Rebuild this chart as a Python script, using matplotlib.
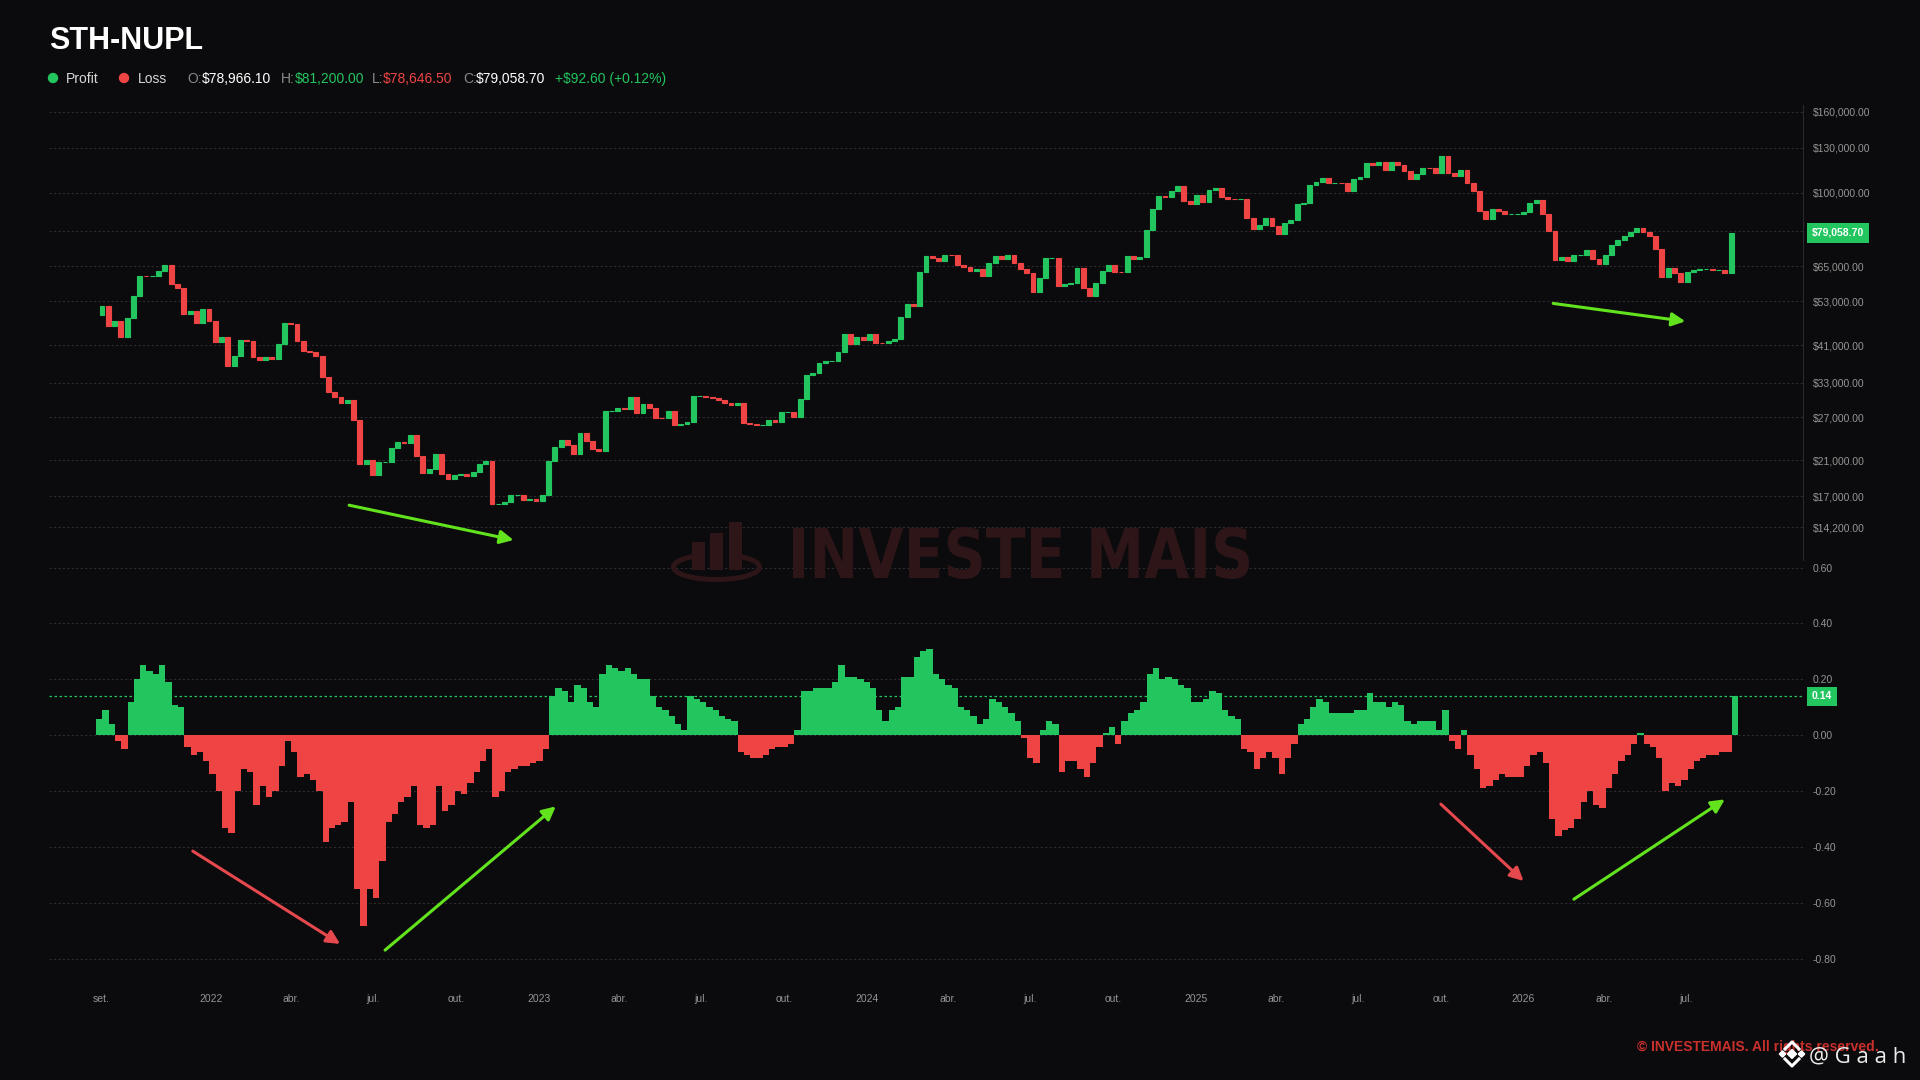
from datetime import date, timedelta

import matplotlib
matplotlib.use('Agg')
import matplotlib.pyplot as plt
from matplotlib.font_manager import FontProperties
from matplotlib.patches import Arc, Circle, PathPatch, Rectangle, RegularPolygon
from matplotlib.lines import Line2D
from matplotlib.textpath import TextPath
from matplotlib.ticker import FixedLocator, NullLocator
from matplotlib.transforms import Affine2D, blended_transform_factory

# weekly data, week 0 starts on this monday
first_week = date(2021, 8, 30)
first_open = 48900

# weekly closes (USD)
price_close = [
    51750, 45950, 47250, 43200, 48200, 54700, 61500, 61300, 61300, 63300,
    65500, 58600, 57300, 49400, 50100, 46700, 50800, 47300, 41900, 43100,
    36300, 38500, 42400, 42200, 38400, 37700, 38400, 37800, 41300, 46800,
    46400, 42200, 39700, 39500, 38500, 34100, 31300, 30300, 29400, 29900,
    26600, 20500, 21000, 19300, 20800, 20800, 22600, 23300, 23200, 24300,
    21500, 19500, 19900, 21800, 19400, 18800, 19300, 19400, 19200, 19600,
    20600, 20900, 16300, 16300, 16500, 17100, 17100, 16700, 16800, 16600,
    17100, 20900, 22700, 23700, 22900, 21800, 24600, 23500, 22400, 22100,
    28000, 28000, 28400, 28300, 30300, 27600,
    29200, 28400, 26900, 26800, 28000, 25800, 25900, 26300, 30500, 30600,
    30300, 30200, 29900, 29300, 29000, 29300, 26100, 26000, 25800, 25800,
    26500, 26200, 27900, 27900, 27100, 30000, 34500, 35000, 37000, 37400,
    37500, 39500, 43800, 41400, 43000, 42300, 43900, 41700, 41600, 42000,
    42600, 48300, 52100, 51700, 63000, 68900, 68400, 67200, 69600, 69300,
    65600, 64900, 63400, 64000, 61500, 66300, 69000, 67800, 69600, 66200,
    64200, 62700, 55900, 60800, 68200, 68300, 58100, 58800, 58900, 64300,
    57300, 54800, 59100, 63300, 65600, 63000, 62900, 69000, 67900, 68700,
    80400, 90600, 98000, 97200, 101000, 104000, 95000, 93400,
    98300, 94500, 101300, 102600, 97700, 96500, 96100, 96300, 86000, 80700,
    82600, 86100, 82400, 78400, 83700, 85200, 93800, 94300, 104200, 106500,
    109000, 105700, 105700, 105500, 100900, 108400, 109200, 119100, 117300, 119400,
    114200, 119300, 117400, 113500, 108200, 111100, 115300, 115200, 112200, 123500,
    112000, 110000, 114000, 106000, 101000, 90000, 85500, 91000, 90000, 88000,
    88000, 88500, 89500, 94000, 95500, 88500, 80000, 67500, 68500, 67000,
    69500, 69500, 71500, 68000, 66000, 69500, 73500, 76000, 77500, 79500,
    81500, 79500, 77500, 72000, 61000, 64500, 62500, 59500, 63000, 63500,
    64000, 64000, 63500, 63500, 62500, 79058.70,
]

# weekly STH-NUPL
nupl = [
    0.06, 0.09, 0.04, -0.02, -0.05, 0.12, 0.20, 0.25, 0.23, 0.22,
    0.25, 0.19, 0.11, 0.10, -0.04, -0.07, -0.06, -0.09, -0.14, -0.20,
    -0.33, -0.35, -0.20, -0.12, -0.13, -0.25, -0.18, -0.22, -0.20, -0.11,
    -0.02, -0.06, -0.15, -0.14, -0.16, -0.20, -0.38, -0.33, -0.32, -0.31,
    -0.24, -0.55, -0.68, -0.55, -0.58, -0.45, -0.31, -0.28, -0.24, -0.22,
    -0.18, -0.32, -0.33, -0.32, -0.18, -0.27, -0.25, -0.20, -0.21, -0.17,
    -0.13, -0.09, -0.05, -0.22, -0.20, -0.13, -0.12, -0.11, -0.11, -0.10,
    -0.09, -0.05, 0.14, 0.17, 0.16, 0.12, 0.18, 0.17, 0.12, 0.10,
    0.22, 0.25, 0.24, 0.23, 0.24, 0.22,
    0.20, 0.20, 0.14, 0.10, 0.09, 0.07, 0.04, 0.02, 0.14, 0.13,
    0.12, 0.10, 0.09, 0.07, 0.06, 0.05, -0.06, -0.07, -0.08, -0.08,
    -0.07, -0.05, -0.04, -0.04, -0.03, 0.02, 0.16, 0.16, 0.17, 0.17,
    0.17, 0.19, 0.25, 0.21, 0.21, 0.20, 0.19, 0.17, 0.09, 0.05,
    0.09, 0.10, 0.21, 0.21, 0.28, 0.30, 0.31, 0.22, 0.20, 0.18,
    0.17, 0.10, 0.09, 0.07, 0.04, 0.06, 0.13, 0.12, 0.10, 0.08,
    0.05, -0.01, -0.08, -0.10, 0.02, 0.05, 0.04, -0.13, -0.09, -0.09,
    -0.12, -0.15, -0.10, -0.04, 0.01, 0.03, -0.03, 0.05, 0.08, 0.09,
    0.12, 0.22, 0.24, 0.20, 0.21, 0.20, 0.18, 0.17,
    0.12, 0.12, 0.13, 0.16, 0.15, 0.09, 0.07, 0.06, -0.05, -0.06,
    -0.12, -0.08, -0.06, -0.08, -0.14, -0.08, -0.03, 0.04, 0.06, 0.10,
    0.13, 0.12, 0.08, 0.08, 0.08, 0.08, 0.09, 0.09, 0.15, 0.12,
    0.12, 0.10, 0.12, 0.11, 0.05, 0.04, 0.05, 0.05, 0.05, 0.02,
    0.09, -0.02, -0.05, 0.02, -0.07, -0.12, -0.19, -0.18, -0.16, -0.14,
    -0.15, -0.15, -0.15, -0.11, -0.07, -0.06, -0.10, -0.30, -0.36, -0.34,
    -0.33, -0.30, -0.24, -0.20, -0.25, -0.26, -0.19, -0.14, -0.09, -0.07,
    -0.03, 0.01, -0.03, -0.04, -0.08, -0.20, -0.17, -0.18, -0.16, -0.12,
    -0.09, -0.08, -0.07, -0.07, -0.06, -0.06, 0.14,
]

last_open, last_high, last_low, last_close = 78966.10, 81200.00, 78646.50, 79058.70
change, change_pct = 92.60, 0.12

tick_dates = [date(2021, 9, 1), date(2022, 1, 1), date(2022, 4, 1), date(2022, 7, 1),
              date(2022, 10, 1), date(2023, 1, 1), date(2023, 4, 1), date(2023, 7, 1),
              date(2023, 10, 1), date(2024, 1, 1), date(2024, 4, 1), date(2024, 7, 1),
              date(2024, 10, 1), date(2025, 1, 1), date(2025, 4, 1), date(2025, 7, 1),
              date(2025, 10, 1), date(2026, 1, 1), date(2026, 4, 1), date(2026, 7, 1)]
tick_labels = ['set.', '2022', 'abr.', 'jul.', 'out.', '2023', 'abr.', 'jul.', 'out.',
               '2024', 'abr.', 'jul.', 'out.', '2025', 'abr.', 'jul.', 'out.',
               '2026', 'abr.', 'jul.']
price_ticks = [14200, 17000, 21000, 27000, 33000, 41000, 53000, 65000, 80000,
               100000, 130000, 160000]
nupl_ticks = [-0.8, -0.6, -0.4, -0.2, 0.0, 0.2, 0.4, 0.6]

# hand drawn arrows: (colour, start, end)
price_arrows = [
    ('g', (date(2022, 6, 4), 16160), (date(2022, 12, 4), 13190)),
    ('g', (date(2026, 2, 3), 52400), (date(2026, 6, 30), 47200)),
]
nupl_arrows = [
    ('r', (date(2021, 12, 12), -0.414), (date(2022, 5, 25), -0.746)),
    ('g', (date(2022, 7, 14), -0.768), (date(2023, 1, 20), -0.254)),
    ('r', (date(2025, 10, 1), -0.246), (date(2026, 1, 1), -0.521)),
    ('g', (date(2026, 2, 26), -0.586), (date(2026, 8, 13), -0.229)),
]

BG = '#0b0b0d'
GREEN = '#22c55e'
RED = '#ef4444'
GRID = '#2c2c31'
TICK = '#959595'
ARROW = {'g': '#62e31d', 'r': '#e5484d'}
WM = '#2d1518'

plt.rcParams['font.family'] = ['Liberation Sans', 'DejaVu Sans']
plt.rcParams['axes.unicode_minus'] = False

W, H = 1920, 1080
fig = plt.figure(figsize=(W / 100, H / 100), dpi=100, facecolor=BG)
img = Affine2D().scale(1 / W, -1 / H).translate(0, 1) + fig.transFigure

ax1 = fig.add_axes([49 / W, 1 - 560 / H, 1754 / W, 455 / H], facecolor=BG)
ax2 = fig.add_axes([49 / W, 1 - 982 / H, 1754 / W, 422 / H], facecolor=BG, sharex=ax1)
ax2.patch.set_alpha(0)

# price candles
opens = [first_open] + price_close[:-1]
centers = [first_week + timedelta(days=7 * i + 3.5) for i in range(len(price_close))]
cols = [GREEN if c >= o else RED for o, c in zip(opens, price_close)]
ax1.bar(centers, [c - o for o, c in zip(opens, price_close)], bottom=opens,
        width=5.4, color=cols, edgecolor=cols, linewidth=0.8)
ax1.set_yscale('log')
ax1.set_ylim(11740, 166600)
ax1.yaxis.set_major_locator(FixedLocator(price_ticks))
ax1.yaxis.set_minor_locator(NullLocator())
ax1.set_yticklabels([f'${v:,.2f}' for v in price_ticks])

# nupl histogram
wdates = [first_week + timedelta(weeks=i) for i in range(len(nupl))]
ax2.bar(wdates, nupl, width=7, color=[GREEN if v >= 0 else RED for v in nupl], linewidth=0)
ax2.set_ylim(-0.882, 0.627)
ax2.set_yticks(nupl_ticks)
ax2.set_yticklabels([f'{v:.2f}' for v in nupl_ticks])
ax2.axhline(nupl[-1], color=GREEN, lw=0.9, ls=(0, (2, 2)), zorder=1)

ax2.set_xlim(date(2021, 7, 5), date(2026, 11, 8))
ax2.set_xticks(tick_dates)
ax2.set_xticklabels(tick_labels)

for ax in (ax1, ax2):
    ax.yaxis.tick_right()
    ax.grid(axis='y', color=GRID, lw=0.8, ls=(0, (2, 2)), zorder=0)
    ax.set_axisbelow(True)
    ax.tick_params(axis='both', which='both', length=0, labelsize=7.5, labelcolor=TICK)
    ax.tick_params(axis='y', pad=7)
    for s in ax.spines.values():
        s.set_visible(False)
ax1.spines['right'].set_visible(True)
ax1.spines['right'].set_color('#2a2a2e')
ax1.tick_params(axis='x', labelbottom=False)
ax2.tick_params(axis='x', pad=9)

# last value tags
for ax, val, txt in ((ax1, last_close, f'${last_close:,.2f}'), (ax2, nupl[-1], f'{nupl[-1]:.2f}')):
    ax.annotate(txt, xy=(1, val), xycoords=blended_transform_factory(ax.transAxes, ax.transData),
                xytext=(6.5, 0), textcoords='offset points', ha='left', va='center',
                fontsize=7.5, fontweight='bold', color='white', annotation_clip=False,
                bbox=dict(boxstyle='square,pad=0.45', fc=GREEN, ec='none'))

# arrows
for ax, arrows in ((ax1, price_arrows), (ax2, nupl_arrows)):
    for c, start, end in arrows:
        ax.annotate('', xy=end, xytext=start, annotation_clip=False,
                    arrowprops=dict(arrowstyle='-|>', color=ARROW[c], lw=2.2,
                                    mutation_scale=20, shrinkA=0, shrinkB=0))

# header
fig.text(49 / W, 1 - 49 / H, 'STH-NUPL', fontsize=22, fontweight='bold', color='white',
         ha='left', va='baseline')
fig.add_artist(Circle((53, 78), 4.5, color=GREEN, transform=img))
fig.add_artist(Circle((124, 78), 4.5, color=RED, transform=img))
header = [
    (66, 'Profit', '#d8d8d8'), (138, 'Loss', '#d8d8d8'),
    (187, 'O:', '#8a8a8a'), (202, f'${last_open:,.2f}', 'white'),
    (281, 'H:', '#8a8a8a'), (295, f'${last_high:,.2f}', GREEN),
    (372, 'L:', '#8a8a8a'), (383, f'${last_low:,.2f}', RED),
    (463, 'C:', '#8a8a8a'), (476, f'${last_close:,.2f}', 'white'),
    (555, f'+${change:,.2f} (+{change_pct:.2f}%)', GREEN),
]
for x, s, c in header:
    fig.text(x / W, 1 - 83 / H, s, fontsize=10, color=c, ha='left', va='baseline')

# watermark logo
for x, top in ((692, 542), (710, 533), (729, 522)):
    fig.add_artist(Rectangle((x, top), 13, 570 - top, color=WM, lw=0, transform=img, zorder=0.5))
fig.add_artist(Arc((716.5, 567), 86, 25, theta1=-30, theta2=210, color=WM, lw=3.6,
                   transform=img, zorder=0.5))
tp = TextPath((0, 0), 'INVESTE MAIS', size=100,
              prop=FontProperties(family='DejaVu Sans', weight='bold'))
ext = tp.get_extents()
tt = Affine2D().translate(-ext.x0, -ext.y0).scale(456 / ext.width, -52 / ext.height).translate(793, 579)
fig.add_artist(PathPatch(tp, transform=tt + img, color=WM, lw=0, zorder=0.5))

# footer
fig.text(1637 / W, 1 - 1051 / H, '\u00a9 INVESTEMAIS. All rights reserved.', fontsize=10,
         fontweight='bold', color='#c9302c', ha='left', va='baseline')
fig.add_artist(RegularPolygon((1792, 1054), 4, radius=4.5, orientation=0, color='white', transform=img, zorder=5))
for dx in (-9.5, 9.5):
    fig.add_artist(RegularPolygon((1792 + dx, 1054), 4, radius=3.2, orientation=0, color='white',
                                  transform=img, zorder=5))
for sgn in (-1, 1):
    fig.add_artist(Line2D([1785, 1792, 1799], [1054 + sgn * 5, 1054 + sgn * 12, 1054 + sgn * 5],
                          color='white', lw=2.2, transform=img, zorder=5))
fig.text(1809 / W, 1 - 1062 / H, '@ G a a h', fontsize=16, color='#ececec', ha='left',
         va='baseline', family=['Open Sans', 'DejaVu Sans'], zorder=5)

fig.savefig('out.png', dpi=100, facecolor=BG)
